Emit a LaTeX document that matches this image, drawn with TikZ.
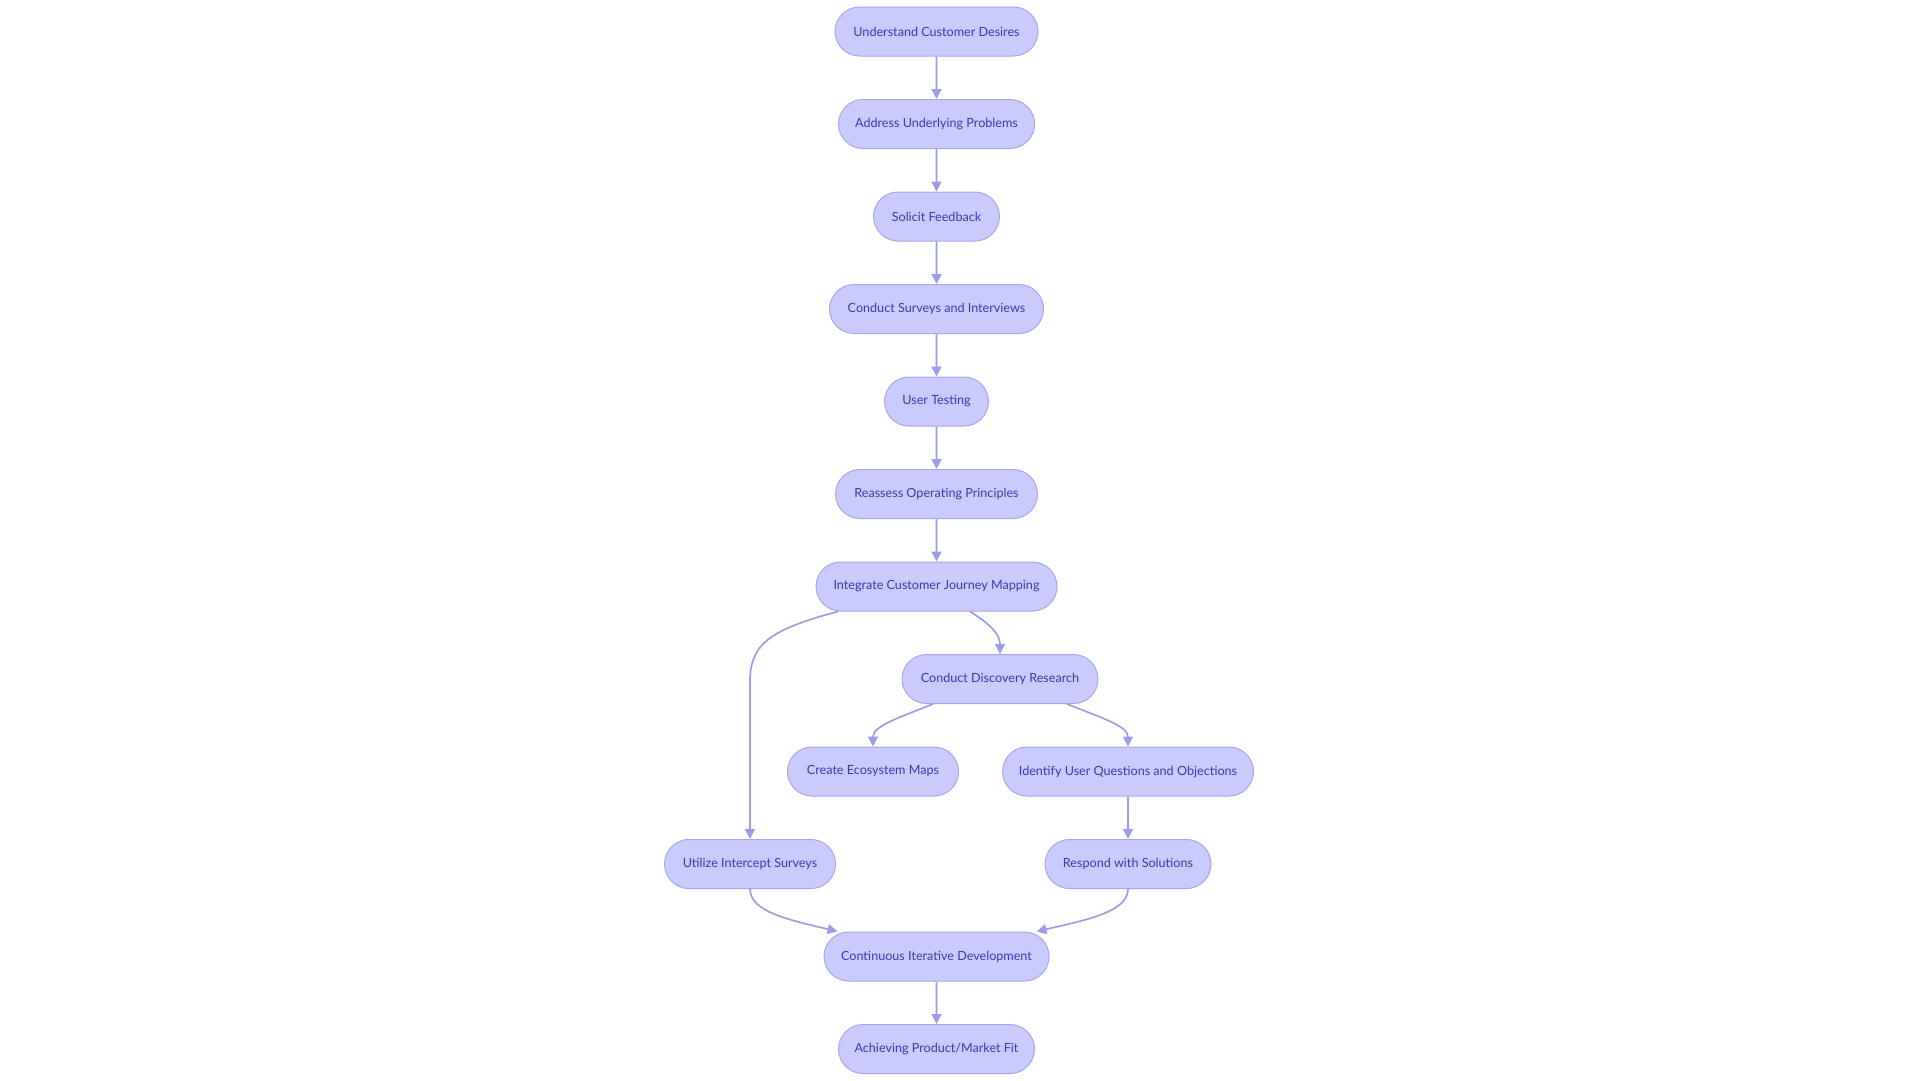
\documentclass[tikz,border=0pt]{standalone}
\usepackage{fontspec}
\setmainfont{Lato}
\usetikzlibrary{shapes.misc,arrows.meta,calc}
\definecolor{nodefill}{HTML}{CACAFC}
\definecolor{nodestroke}{HTML}{A6A6EE}
\definecolor{edgecol}{HTML}{9C9CE8}
\definecolor{textcol}{HTML}{3838B4}
\tikzset{
  box/.style={rounded rectangle, draw=nodestroke, fill=nodefill, line width=1pt,
    minimum height=49pt, inner xsep=0pt, inner ysep=0pt, text=textcol,
    font=\fontsize{12.6}{15}\selectfont},
  edge/.style={draw=edgecol, line width=1.7pt, -{Triangle[length=10pt,width=10pt]}},
}
\begin{document}
\begin{tikzpicture}[x=1pt,y=-1pt]
\useasboundingbox (0,0) rectangle (1920,1080);
\node[box, minimum width=203pt] (n0) at (936.5,31.5) {Understand Customer Desires};
\node[box, minimum width=196pt] (n1) at (936.5,124) {Address Underlying Problems};
\node[box, minimum width=126pt] (n2) at (936.5,216.5) {Solicit Feedback};
\node[box, minimum width=214pt] (n3) at (936.5,309) {Conduct Surveys and Interviews};
\node[box, minimum width=104pt] (n4) at (936.5,401.5) {User Testing};
\node[box, minimum width=202pt] (n5) at (936.5,494) {Reassess Operating Principles};
\node[box, minimum width=241pt] (integ) at (936.5,586.5) {Integrate Customer Journey Mapping};
\node[box, minimum width=196pt] (disc) at (1000,679) {Conduct Discovery Research};
\node[box, minimum width=171pt] (create) at (873,771.5) {Create Ecosystem Maps};
\node[box, minimum width=251pt] (ident) at (1128,771.5) {Identify User Questions and Objections};
\node[box, minimum width=171pt] (util) at (750,864) {Utilize Intercept Surveys};
\node[box, minimum width=166pt] (resp) at (1128,864) {Respond with Solutions};
\node[box, minimum width=225pt] (cont) at (936.5,956.5) {Continuous Iterative Development};
\node[box, minimum width=196pt] (fit) at (936.5,1049) {Achieving Product/Market Fit};

\draw[edge] (n0) -- (n1);
\draw[edge] (n1) -- (n2);
\draw[edge] (n2) -- (n3);
\draw[edge] (n3) -- (n4);
\draw[edge] (n4) -- (n5);
\draw[edge] (n5) -- (integ);
\draw[edge] ($(integ.south)+(-98.5,0)$) .. controls (768,630) and (750,645) .. (750,682) -- (util.north);
\draw[edge] ($(integ.south)+(33.5,0)$) .. controls (990,624) and (1000,634) .. (disc.north);
\draw[edge] ($(disc.south)+(-67,0)$) .. controls (898,718) and (873,726) .. (create.north);
\draw[edge] ($(disc.south)+(67,0)$) .. controls (1102,718) and (1128,726) .. (ident.north);
\draw[edge] (ident) -- (resp);
\draw[edge] (util.south) .. controls (750,912) and (790,920) .. ($(cont.north)+(-99,0)$);
\draw[edge] (resp.south) .. controls (1128,912) and (1086,920) .. ($(cont.north)+(100,0)$);
\draw[edge] (cont) -- (fit);
\end{tikzpicture}
\end{document}
